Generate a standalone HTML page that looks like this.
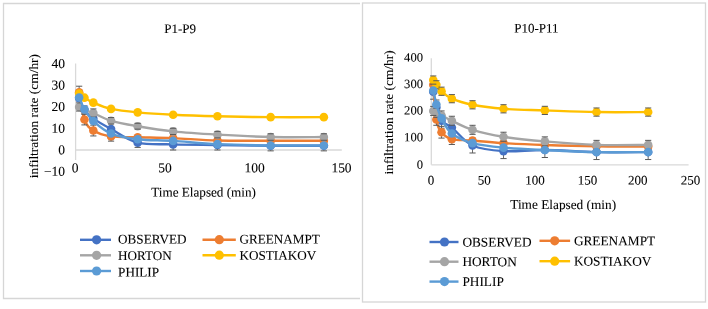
<!DOCTYPE html>
<html><head><meta charset="utf-8"><style>
html,body{margin:0;padding:0;background:#fff;width:708px;height:309px;overflow:hidden}
svg{display:block;will-change:transform} text{font-family:"Liberation Serif",serif;stroke:#000;stroke-width:0.08px;stroke-linejoin:round}
</style></head><body>
<svg width="708" height="309" viewBox="0 0 708 309">
<rect width="708" height="309" fill="#fff"/>

<path d="M360,3.5 H3.5 V298.5 H360" fill="none" stroke="#D6D6D6" stroke-width="1.3"/>
<rect x="362.5" y="3" width="343" height="299" fill="none" stroke="#D6D6D6" stroke-width="1.3"/>

<line x1="75.6" y1="63.5" x2="75.6" y2="160" stroke="#D9D9D9" stroke-width="1.3"/>
<line x1="75.6" y1="150.0" x2="341.8" y2="150.0" stroke="#D9D9D9" stroke-width="1.3"/>
<path d="M79.15,98.10 C80.03,100.08 82.10,106.57 84.47,109.99 C86.83,113.42 88.90,115.47 93.33,118.64 C97.77,121.82 103.68,125.02 111.07,129.02 C118.45,133.02 127.32,140.09 137.67,142.65 C148.01,145.21 159.83,143.98 173.13,144.38 C186.43,144.77 201.21,144.81 217.46,145.03 C233.72,145.24 252.93,145.57 270.66,145.68 C288.40,145.78 315.00,145.68 323.86,145.68" fill="none" stroke="#4472C4" stroke-width="2.4" stroke-linejoin="round"/>
<line x1="137.67" y1="137.89" x2="137.67" y2="147.41" stroke="#595959" stroke-width="0.9"/>
<line x1="173.13" y1="138.75" x2="173.13" y2="150.00" stroke="#595959" stroke-width="0.9"/>
<line x1="217.46" y1="140.05" x2="217.46" y2="150.00" stroke="#595959" stroke-width="0.9"/>
<line x1="270.66" y1="140.49" x2="270.66" y2="150.87" stroke="#595959" stroke-width="0.9"/>
<line x1="323.86" y1="140.49" x2="323.86" y2="150.87" stroke="#595959" stroke-width="0.9"/>
<circle cx="79.15" cy="98.10" r="4.3" fill="#4472C4"/>
<circle cx="84.47" cy="109.99" r="4.3" fill="#4472C4"/>
<circle cx="93.33" cy="118.64" r="4.3" fill="#4472C4"/>
<circle cx="111.07" cy="129.02" r="4.3" fill="#4472C4"/>
<circle cx="137.67" cy="142.65" r="4.3" fill="#4472C4"/>
<circle cx="173.13" cy="144.38" r="4.3" fill="#4472C4"/>
<circle cx="217.46" cy="145.03" r="4.3" fill="#4472C4"/>
<circle cx="270.66" cy="145.68" r="4.3" fill="#4472C4"/>
<circle cx="323.86" cy="145.68" r="4.3" fill="#4472C4"/>
<line x1="134.57" y1="137.89" x2="140.77" y2="137.89" stroke="#595959" stroke-width="1.0"/>
<line x1="134.57" y1="147.41" x2="140.77" y2="147.41" stroke="#595959" stroke-width="1.0"/>
<line x1="170.03" y1="138.75" x2="176.23" y2="138.75" stroke="#595959" stroke-width="1.0"/>
<line x1="170.03" y1="150.00" x2="176.23" y2="150.00" stroke="#595959" stroke-width="1.0"/>
<line x1="214.36" y1="140.05" x2="220.56" y2="140.05" stroke="#595959" stroke-width="1.0"/>
<line x1="214.36" y1="150.00" x2="220.56" y2="150.00" stroke="#595959" stroke-width="1.0"/>
<line x1="267.56" y1="140.49" x2="273.76" y2="140.49" stroke="#595959" stroke-width="1.0"/>
<line x1="267.56" y1="150.87" x2="273.76" y2="150.87" stroke="#595959" stroke-width="1.0"/>
<line x1="320.76" y1="140.49" x2="326.96" y2="140.49" stroke="#595959" stroke-width="1.0"/>
<line x1="320.76" y1="150.87" x2="326.96" y2="150.87" stroke="#595959" stroke-width="1.0"/>
<path d="M79.15,92.26 C80.03,96.80 82.10,113.13 84.47,119.51 C86.83,125.89 88.90,127.73 93.33,130.54 C97.77,133.35 103.68,135.26 111.07,136.38 C118.45,137.49 127.32,136.95 137.67,137.24 C148.01,137.53 159.83,137.57 173.13,138.11 C186.43,138.65 201.21,140.05 217.46,140.49 C233.72,140.92 252.93,140.67 270.66,140.70 C288.40,140.74 315.00,140.70 323.86,140.70" fill="none" stroke="#ED7D31" stroke-width="2.4" stroke-linejoin="round"/>
<line x1="79.15" y1="86.21" x2="79.15" y2="98.32" stroke="#595959" stroke-width="0.9"/>
<line x1="84.47" y1="114.10" x2="84.47" y2="124.91" stroke="#595959" stroke-width="0.9"/>
<line x1="93.33" y1="125.13" x2="93.33" y2="135.94" stroke="#595959" stroke-width="0.9"/>
<line x1="111.07" y1="131.62" x2="111.07" y2="141.13" stroke="#595959" stroke-width="0.9"/>
<circle cx="79.15" cy="92.26" r="4.3" fill="#ED7D31"/>
<circle cx="84.47" cy="119.51" r="4.3" fill="#ED7D31"/>
<circle cx="93.33" cy="130.54" r="4.3" fill="#ED7D31"/>
<circle cx="111.07" cy="136.38" r="4.3" fill="#ED7D31"/>
<circle cx="137.67" cy="137.24" r="4.3" fill="#ED7D31"/>
<circle cx="173.13" cy="138.11" r="4.3" fill="#ED7D31"/>
<circle cx="217.46" cy="140.49" r="4.3" fill="#ED7D31"/>
<circle cx="270.66" cy="140.70" r="4.3" fill="#ED7D31"/>
<circle cx="323.86" cy="140.70" r="4.3" fill="#ED7D31"/>
<line x1="76.05" y1="86.21" x2="82.25" y2="86.21" stroke="#595959" stroke-width="1.0"/>
<line x1="76.05" y1="98.32" x2="82.25" y2="98.32" stroke="#595959" stroke-width="1.0"/>
<line x1="81.37" y1="114.10" x2="87.57" y2="114.10" stroke="#595959" stroke-width="1.0"/>
<line x1="81.37" y1="124.91" x2="87.57" y2="124.91" stroke="#595959" stroke-width="1.0"/>
<line x1="90.23" y1="125.13" x2="96.43" y2="125.13" stroke="#595959" stroke-width="1.0"/>
<line x1="90.23" y1="135.94" x2="96.43" y2="135.94" stroke="#595959" stroke-width="1.0"/>
<line x1="107.97" y1="131.62" x2="114.17" y2="131.62" stroke="#595959" stroke-width="1.0"/>
<line x1="107.97" y1="141.13" x2="114.17" y2="141.13" stroke="#595959" stroke-width="1.0"/>
<path d="M79.15,106.97 C80.03,107.47 82.10,108.98 84.47,109.99 C86.83,111.00 88.90,111.22 93.33,113.02 C97.77,114.82 103.68,118.61 111.07,120.81 C118.45,123.00 127.32,124.45 137.67,126.21 C148.01,127.98 159.83,130.00 173.13,131.40 C186.43,132.81 201.21,133.71 217.46,134.65 C233.72,135.58 252.93,136.63 270.66,137.03 C288.40,137.42 315.00,137.03 323.86,137.03" fill="none" stroke="#A5A5A5" stroke-width="2.4" stroke-linejoin="round"/>
<line x1="79.15" y1="102.86" x2="79.15" y2="111.07" stroke="#595959" stroke-width="0.9"/>
<line x1="84.47" y1="105.88" x2="84.47" y2="114.10" stroke="#595959" stroke-width="0.9"/>
<line x1="93.33" y1="108.91" x2="93.33" y2="117.13" stroke="#595959" stroke-width="0.9"/>
<line x1="111.07" y1="117.56" x2="111.07" y2="124.05" stroke="#595959" stroke-width="0.9"/>
<line x1="137.67" y1="123.29" x2="137.67" y2="129.13" stroke="#595959" stroke-width="0.9"/>
<line x1="173.13" y1="128.27" x2="173.13" y2="134.54" stroke="#595959" stroke-width="0.9"/>
<line x1="217.46" y1="131.40" x2="217.46" y2="137.89" stroke="#595959" stroke-width="0.9"/>
<line x1="270.66" y1="133.78" x2="270.66" y2="140.27" stroke="#595959" stroke-width="0.9"/>
<line x1="323.86" y1="133.78" x2="323.86" y2="140.27" stroke="#595959" stroke-width="0.9"/>
<circle cx="79.15" cy="106.97" r="4.3" fill="#A5A5A5"/>
<circle cx="84.47" cy="109.99" r="4.3" fill="#A5A5A5"/>
<circle cx="93.33" cy="113.02" r="4.3" fill="#A5A5A5"/>
<circle cx="111.07" cy="120.81" r="4.3" fill="#A5A5A5"/>
<circle cx="137.67" cy="126.21" r="4.3" fill="#A5A5A5"/>
<circle cx="173.13" cy="131.40" r="4.3" fill="#A5A5A5"/>
<circle cx="217.46" cy="134.65" r="4.3" fill="#A5A5A5"/>
<circle cx="270.66" cy="137.03" r="4.3" fill="#A5A5A5"/>
<circle cx="323.86" cy="137.03" r="4.3" fill="#A5A5A5"/>
<line x1="76.05" y1="102.86" x2="82.25" y2="102.86" stroke="#595959" stroke-width="1.0"/>
<line x1="76.05" y1="111.07" x2="82.25" y2="111.07" stroke="#595959" stroke-width="1.0"/>
<line x1="81.37" y1="105.88" x2="87.57" y2="105.88" stroke="#595959" stroke-width="1.0"/>
<line x1="81.37" y1="114.10" x2="87.57" y2="114.10" stroke="#595959" stroke-width="1.0"/>
<line x1="90.23" y1="108.91" x2="96.43" y2="108.91" stroke="#595959" stroke-width="1.0"/>
<line x1="90.23" y1="117.13" x2="96.43" y2="117.13" stroke="#595959" stroke-width="1.0"/>
<line x1="107.97" y1="117.56" x2="114.17" y2="117.56" stroke="#595959" stroke-width="1.0"/>
<line x1="107.97" y1="124.05" x2="114.17" y2="124.05" stroke="#595959" stroke-width="1.0"/>
<line x1="134.57" y1="123.29" x2="140.77" y2="123.29" stroke="#595959" stroke-width="1.0"/>
<line x1="134.57" y1="129.13" x2="140.77" y2="129.13" stroke="#595959" stroke-width="1.0"/>
<line x1="170.03" y1="128.27" x2="176.23" y2="128.27" stroke="#595959" stroke-width="1.0"/>
<line x1="170.03" y1="134.54" x2="176.23" y2="134.54" stroke="#595959" stroke-width="1.0"/>
<line x1="214.36" y1="131.40" x2="220.56" y2="131.40" stroke="#595959" stroke-width="1.0"/>
<line x1="214.36" y1="137.89" x2="220.56" y2="137.89" stroke="#595959" stroke-width="1.0"/>
<line x1="267.56" y1="133.78" x2="273.76" y2="133.78" stroke="#595959" stroke-width="1.0"/>
<line x1="267.56" y1="140.27" x2="273.76" y2="140.27" stroke="#595959" stroke-width="1.0"/>
<line x1="320.76" y1="133.78" x2="326.96" y2="133.78" stroke="#595959" stroke-width="1.0"/>
<line x1="320.76" y1="140.27" x2="326.96" y2="140.27" stroke="#595959" stroke-width="1.0"/>
<path d="M79.15,93.56 C80.03,94.24 82.10,96.15 84.47,97.67 C86.83,99.18 88.90,100.77 93.33,102.64 C97.77,104.52 103.68,107.29 111.07,108.91 C118.45,110.53 127.32,111.40 137.67,112.37 C148.01,113.35 159.83,114.10 173.13,114.75 C186.43,115.40 201.21,115.87 217.46,116.27 C233.72,116.66 252.93,116.99 270.66,117.13 C288.40,117.27 315.00,117.13 323.86,117.13" fill="none" stroke="#FFC000" stroke-width="2.4" stroke-linejoin="round"/>
<circle cx="79.15" cy="93.56" r="4.3" fill="#FFC000"/>
<circle cx="84.47" cy="97.67" r="4.3" fill="#FFC000"/>
<circle cx="93.33" cy="102.64" r="4.3" fill="#FFC000"/>
<circle cx="111.07" cy="108.91" r="4.3" fill="#FFC000"/>
<circle cx="137.67" cy="112.37" r="4.3" fill="#FFC000"/>
<circle cx="173.13" cy="114.75" r="4.3" fill="#FFC000"/>
<circle cx="217.46" cy="116.27" r="4.3" fill="#FFC000"/>
<circle cx="270.66" cy="117.13" r="4.3" fill="#FFC000"/>
<circle cx="323.86" cy="117.13" r="4.3" fill="#FFC000"/>
<path d="M79.15,97.45 C80.03,99.43 82.10,105.42 84.47,109.34 C86.83,113.27 88.90,116.99 93.33,121.02 C97.77,125.06 103.68,130.54 111.07,133.56 C118.45,136.59 127.32,137.96 137.67,139.19 C148.01,140.41 159.83,140.09 173.13,140.92 C186.43,141.75 201.21,143.40 217.46,144.16 C233.72,144.92 252.93,145.24 270.66,145.46 C288.40,145.68 315.00,145.46 323.86,145.46" fill="none" stroke="#5B9BD5" stroke-width="2.4" stroke-linejoin="round"/>
<circle cx="79.15" cy="97.45" r="4.3" fill="#5B9BD5"/>
<circle cx="84.47" cy="109.34" r="4.3" fill="#5B9BD5"/>
<circle cx="93.33" cy="121.02" r="4.3" fill="#5B9BD5"/>
<circle cx="111.07" cy="133.56" r="4.3" fill="#5B9BD5"/>
<circle cx="137.67" cy="139.19" r="4.3" fill="#5B9BD5"/>
<circle cx="173.13" cy="140.92" r="4.3" fill="#5B9BD5"/>
<circle cx="217.46" cy="144.16" r="4.3" fill="#5B9BD5"/>
<circle cx="270.66" cy="145.46" r="4.3" fill="#5B9BD5"/>
<circle cx="323.86" cy="145.46" r="4.3" fill="#5B9BD5"/>
<text x="0" y="0" transform="translate(65,67.9) rotate(0.05)" text-anchor="end" font-size="13.5" fill="#000">40</text>
<text x="0" y="0" transform="translate(65,89.5) rotate(0.05)" text-anchor="end" font-size="13.5" fill="#000">30</text>
<text x="0" y="0" transform="translate(65,111.1) rotate(0.05)" text-anchor="end" font-size="13.5" fill="#000">20</text>
<text x="0" y="0" transform="translate(65,132.8) rotate(0.05)" text-anchor="end" font-size="13.5" fill="#000">10</text>
<text x="0" y="0" transform="translate(65,154.3) rotate(0.05)" text-anchor="end" font-size="13.5" fill="#000">0</text>
<text x="0" y="0" transform="translate(65,175.7) rotate(0.05)" text-anchor="end" font-size="13.5" fill="#000">−10</text>
<text x="0" y="0" transform="translate(75.1,172.2) rotate(0.05)" text-anchor="middle" font-size="13.5" fill="#000">0</text>
<text x="0" y="0" transform="translate(165,172.2) rotate(0.05)" text-anchor="middle" font-size="13.5" fill="#000">50</text>
<text x="0" y="0" transform="translate(254.7,172.2) rotate(0.05)" text-anchor="middle" font-size="13.5" fill="#000">100</text>
<text x="0" y="0" transform="translate(341.5,172.2) rotate(0.05)" text-anchor="middle" font-size="13.5" fill="#000">150</text>
<text x="0" y="0" transform="translate(180.2,33.1) rotate(0.05)" text-anchor="middle" font-size="13" fill="#000">P1-P9</text>
<text x="0" y="0" transform="translate(203.6,196.5) rotate(0.05)" text-anchor="middle" font-size="13.15" fill="#000">Time Elapsed (min)</text>
<text x="0" y="0" transform="translate(37.8,116.1) rotate(-90)" text-anchor="middle" font-size="13.4"  fill="#000">infiltration rate (cm/hr)</text>
<line x1="80" y1="239.8" x2="111" y2="239.8" stroke="#4472C4" stroke-width="2.4"/>
<circle cx="96.6" cy="239.8" r="4.6" fill="#4472C4"/>
<text x="0" y="0" transform="translate(118.1,243.5) rotate(0.05)" text-anchor="start" font-size="13.15" fill="#000">OBSERVED</text>
<line x1="80" y1="255.3" x2="111" y2="255.3" stroke="#A5A5A5" stroke-width="2.4"/>
<circle cx="96.6" cy="255.3" r="4.6" fill="#A5A5A5"/>
<text x="0" y="0" transform="translate(118.1,259.9) rotate(0.05)" text-anchor="start" font-size="13.15" fill="#000">HORTON</text>
<line x1="80" y1="271.0" x2="111" y2="271.0" stroke="#5B9BD5" stroke-width="2.4"/>
<circle cx="96.6" cy="271.0" r="4.6" fill="#5B9BD5"/>
<text x="0" y="0" transform="translate(118.1,276.5) rotate(0.05)" text-anchor="start" font-size="13.15" fill="#000">PHILIP</text>
<line x1="202.5" y1="239.7" x2="235.8" y2="239.7" stroke="#ED7D31" stroke-width="2.4"/>
<circle cx="219.3" cy="239.7" r="4.6" fill="#ED7D31"/>
<text x="0" y="0" transform="translate(239.5,243.4) rotate(0.05)" text-anchor="start" font-size="13.15" fill="#000">GREENAMPT</text>
<line x1="202.5" y1="255.2" x2="235.8" y2="255.2" stroke="#FFC000" stroke-width="2.4"/>
<circle cx="219.3" cy="255.2" r="4.6" fill="#FFC000"/>
<text x="0" y="0" transform="translate(239.5,259.7) rotate(0.05)" text-anchor="start" font-size="13.15" fill="#000">KOSTIAKOV</text>
<line x1="431.3" y1="58.2" x2="431.3" y2="164.7" stroke="#D9D9D9" stroke-width="1.3"/>
<line x1="431.3" y1="164.8" x2="688.6" y2="164.8" stroke="#D9D9D9" stroke-width="1.3"/>
<path d="M433.27,91.76 C433.78,94.38 434.99,102.63 436.37,107.47 C437.74,112.30 438.95,117.43 441.53,120.78 C444.12,124.13 446.70,123.44 451.86,127.57 C457.03,131.69 463.92,141.61 472.53,145.53 C481.14,149.46 491.47,150.37 503.52,151.12 C515.58,151.88 529.35,149.90 544.85,150.06 C560.35,150.22 579.29,151.74 596.51,152.08 C613.73,152.42 639.56,152.08 648.17,152.08" fill="none" stroke="#4472C4" stroke-width="2.4" stroke-linejoin="round"/>
<line x1="433.27" y1="84.31" x2="433.27" y2="99.21" stroke="#595959" stroke-width="0.9"/>
<line x1="436.37" y1="100.01" x2="436.37" y2="114.92" stroke="#595959" stroke-width="0.9"/>
<line x1="441.53" y1="113.32" x2="441.53" y2="128.23" stroke="#595959" stroke-width="0.9"/>
<line x1="451.86" y1="120.11" x2="451.86" y2="135.02" stroke="#595959" stroke-width="0.9"/>
<line x1="472.53" y1="138.08" x2="472.53" y2="152.99" stroke="#595959" stroke-width="0.9"/>
<line x1="503.52" y1="143.67" x2="503.52" y2="158.58" stroke="#595959" stroke-width="0.9"/>
<line x1="544.85" y1="142.61" x2="544.85" y2="157.51" stroke="#595959" stroke-width="0.9"/>
<line x1="596.51" y1="144.63" x2="596.51" y2="159.54" stroke="#595959" stroke-width="0.9"/>
<line x1="648.17" y1="144.63" x2="648.17" y2="159.54" stroke="#595959" stroke-width="0.9"/>
<circle cx="433.27" cy="91.76" r="4.3" fill="#4472C4"/>
<circle cx="436.37" cy="107.47" r="4.3" fill="#4472C4"/>
<circle cx="441.53" cy="120.78" r="4.3" fill="#4472C4"/>
<circle cx="451.86" cy="127.57" r="4.3" fill="#4472C4"/>
<circle cx="472.53" cy="145.53" r="4.3" fill="#4472C4"/>
<circle cx="503.52" cy="151.12" r="4.3" fill="#4472C4"/>
<circle cx="544.85" cy="150.06" r="4.3" fill="#4472C4"/>
<circle cx="596.51" cy="152.08" r="4.3" fill="#4472C4"/>
<circle cx="648.17" cy="152.08" r="4.3" fill="#4472C4"/>
<line x1="430.17" y1="84.31" x2="436.37" y2="84.31" stroke="#595959" stroke-width="1.0"/>
<line x1="430.17" y1="99.21" x2="436.37" y2="99.21" stroke="#595959" stroke-width="1.0"/>
<line x1="433.27" y1="100.01" x2="439.47" y2="100.01" stroke="#595959" stroke-width="1.0"/>
<line x1="433.27" y1="114.92" x2="439.47" y2="114.92" stroke="#595959" stroke-width="1.0"/>
<line x1="438.43" y1="113.32" x2="444.63" y2="113.32" stroke="#595959" stroke-width="1.0"/>
<line x1="438.43" y1="128.23" x2="444.63" y2="128.23" stroke="#595959" stroke-width="1.0"/>
<line x1="448.76" y1="120.11" x2="454.96" y2="120.11" stroke="#595959" stroke-width="1.0"/>
<line x1="448.76" y1="135.02" x2="454.96" y2="135.02" stroke="#595959" stroke-width="1.0"/>
<line x1="469.43" y1="138.08" x2="475.63" y2="138.08" stroke="#595959" stroke-width="1.0"/>
<line x1="469.43" y1="152.99" x2="475.63" y2="152.99" stroke="#595959" stroke-width="1.0"/>
<line x1="500.42" y1="143.67" x2="506.62" y2="143.67" stroke="#595959" stroke-width="1.0"/>
<line x1="500.42" y1="158.58" x2="506.62" y2="158.58" stroke="#595959" stroke-width="1.0"/>
<line x1="541.75" y1="142.61" x2="547.95" y2="142.61" stroke="#595959" stroke-width="1.0"/>
<line x1="541.75" y1="157.51" x2="547.95" y2="157.51" stroke="#595959" stroke-width="1.0"/>
<line x1="593.41" y1="144.63" x2="599.61" y2="144.63" stroke="#595959" stroke-width="1.0"/>
<line x1="593.41" y1="159.54" x2="599.61" y2="159.54" stroke="#595959" stroke-width="1.0"/>
<line x1="645.07" y1="144.63" x2="651.27" y2="144.63" stroke="#595959" stroke-width="1.0"/>
<line x1="645.07" y1="159.54" x2="651.27" y2="159.54" stroke="#595959" stroke-width="1.0"/>
<path d="M433.27,84.84 C433.78,90.61 434.99,111.55 436.37,119.45 C437.74,127.34 438.95,128.94 441.53,132.22 C444.12,135.51 446.70,137.77 451.86,139.14 C457.03,140.52 463.92,139.81 472.53,140.48 C481.14,141.14 491.47,142.38 503.52,143.14 C515.58,143.89 529.35,144.47 544.85,145.00 C560.35,145.53 579.29,146.07 596.51,146.33 C613.73,146.60 639.56,146.55 648.17,146.60" fill="none" stroke="#ED7D31" stroke-width="2.4" stroke-linejoin="round"/>
<line x1="436.37" y1="113.59" x2="436.37" y2="125.30" stroke="#595959" stroke-width="0.9"/>
<line x1="441.53" y1="126.37" x2="441.53" y2="138.08" stroke="#595959" stroke-width="0.9"/>
<line x1="451.86" y1="133.82" x2="451.86" y2="144.47" stroke="#595959" stroke-width="0.9"/>
<circle cx="433.27" cy="84.84" r="4.3" fill="#ED7D31"/>
<circle cx="436.37" cy="119.45" r="4.3" fill="#ED7D31"/>
<circle cx="441.53" cy="132.22" r="4.3" fill="#ED7D31"/>
<circle cx="451.86" cy="139.14" r="4.3" fill="#ED7D31"/>
<circle cx="472.53" cy="140.48" r="4.3" fill="#ED7D31"/>
<circle cx="503.52" cy="143.14" r="4.3" fill="#ED7D31"/>
<circle cx="544.85" cy="145.00" r="4.3" fill="#ED7D31"/>
<circle cx="596.51" cy="146.33" r="4.3" fill="#ED7D31"/>
<circle cx="648.17" cy="146.60" r="4.3" fill="#ED7D31"/>
<line x1="433.27" y1="113.59" x2="439.47" y2="113.59" stroke="#595959" stroke-width="1.0"/>
<line x1="433.27" y1="125.30" x2="439.47" y2="125.30" stroke="#595959" stroke-width="1.0"/>
<line x1="438.43" y1="126.37" x2="444.63" y2="126.37" stroke="#595959" stroke-width="1.0"/>
<line x1="438.43" y1="138.08" x2="444.63" y2="138.08" stroke="#595959" stroke-width="1.0"/>
<line x1="448.76" y1="133.82" x2="454.96" y2="133.82" stroke="#595959" stroke-width="1.0"/>
<line x1="448.76" y1="144.47" x2="454.96" y2="144.47" stroke="#595959" stroke-width="1.0"/>
<path d="M433.27,110.93 C433.78,111.24 434.99,112.04 436.37,112.79 C437.74,113.55 438.95,114.12 441.53,115.45 C444.12,116.78 446.70,118.38 451.86,120.78 C457.03,123.17 463.92,127.17 472.53,129.83 C481.14,132.49 491.47,134.82 503.52,136.75 C515.58,138.67 529.35,140.02 544.85,141.38 C560.35,142.74 579.29,144.31 596.51,144.89 C613.73,145.48 639.56,144.89 648.17,144.89" fill="none" stroke="#A5A5A5" stroke-width="2.4" stroke-linejoin="round"/>
<line x1="433.27" y1="106.40" x2="433.27" y2="115.45" stroke="#595959" stroke-width="0.9"/>
<line x1="436.37" y1="108.27" x2="436.37" y2="117.32" stroke="#595959" stroke-width="0.9"/>
<line x1="441.53" y1="110.93" x2="441.53" y2="119.98" stroke="#595959" stroke-width="0.9"/>
<line x1="451.86" y1="116.25" x2="451.86" y2="125.30" stroke="#595959" stroke-width="0.9"/>
<line x1="472.53" y1="125.30" x2="472.53" y2="134.35" stroke="#595959" stroke-width="0.9"/>
<line x1="503.52" y1="132.22" x2="503.52" y2="141.27" stroke="#595959" stroke-width="0.9"/>
<line x1="544.85" y1="136.86" x2="544.85" y2="145.91" stroke="#595959" stroke-width="0.9"/>
<line x1="596.51" y1="140.37" x2="596.51" y2="149.42" stroke="#595959" stroke-width="0.9"/>
<line x1="648.17" y1="140.37" x2="648.17" y2="149.42" stroke="#595959" stroke-width="0.9"/>
<circle cx="433.27" cy="110.93" r="4.3" fill="#A5A5A5"/>
<circle cx="436.37" cy="112.79" r="4.3" fill="#A5A5A5"/>
<circle cx="441.53" cy="115.45" r="4.3" fill="#A5A5A5"/>
<circle cx="451.86" cy="120.78" r="4.3" fill="#A5A5A5"/>
<circle cx="472.53" cy="129.83" r="4.3" fill="#A5A5A5"/>
<circle cx="503.52" cy="136.75" r="4.3" fill="#A5A5A5"/>
<circle cx="544.85" cy="141.38" r="4.3" fill="#A5A5A5"/>
<circle cx="596.51" cy="144.89" r="4.3" fill="#A5A5A5"/>
<circle cx="648.17" cy="144.89" r="4.3" fill="#A5A5A5"/>
<line x1="430.17" y1="106.40" x2="436.37" y2="106.40" stroke="#595959" stroke-width="1.0"/>
<line x1="430.17" y1="115.45" x2="436.37" y2="115.45" stroke="#595959" stroke-width="1.0"/>
<line x1="433.27" y1="108.27" x2="439.47" y2="108.27" stroke="#595959" stroke-width="1.0"/>
<line x1="433.27" y1="117.32" x2="439.47" y2="117.32" stroke="#595959" stroke-width="1.0"/>
<line x1="438.43" y1="110.93" x2="444.63" y2="110.93" stroke="#595959" stroke-width="1.0"/>
<line x1="438.43" y1="119.98" x2="444.63" y2="119.98" stroke="#595959" stroke-width="1.0"/>
<line x1="448.76" y1="116.25" x2="454.96" y2="116.25" stroke="#595959" stroke-width="1.0"/>
<line x1="448.76" y1="125.30" x2="454.96" y2="125.30" stroke="#595959" stroke-width="1.0"/>
<line x1="469.43" y1="125.30" x2="475.63" y2="125.30" stroke="#595959" stroke-width="1.0"/>
<line x1="469.43" y1="134.35" x2="475.63" y2="134.35" stroke="#595959" stroke-width="1.0"/>
<line x1="500.42" y1="132.22" x2="506.62" y2="132.22" stroke="#595959" stroke-width="1.0"/>
<line x1="500.42" y1="141.27" x2="506.62" y2="141.27" stroke="#595959" stroke-width="1.0"/>
<line x1="541.75" y1="136.86" x2="547.95" y2="136.86" stroke="#595959" stroke-width="1.0"/>
<line x1="541.75" y1="145.91" x2="547.95" y2="145.91" stroke="#595959" stroke-width="1.0"/>
<line x1="593.41" y1="140.37" x2="599.61" y2="140.37" stroke="#595959" stroke-width="1.0"/>
<line x1="593.41" y1="149.42" x2="599.61" y2="149.42" stroke="#595959" stroke-width="1.0"/>
<line x1="645.07" y1="140.37" x2="651.27" y2="140.37" stroke="#595959" stroke-width="1.0"/>
<line x1="645.07" y1="149.42" x2="651.27" y2="149.42" stroke="#595959" stroke-width="1.0"/>
<path d="M433.27,80.05 C433.78,80.85 434.99,82.98 436.37,84.84 C437.74,86.70 438.95,88.92 441.53,91.23 C444.12,93.54 446.70,96.42 451.86,98.68 C457.03,100.95 463.92,103.12 472.53,104.80 C481.14,106.49 491.47,107.87 503.52,108.80 C515.58,109.73 529.35,109.85 544.85,110.40 C560.35,110.94 579.29,111.79 596.51,112.07 C613.73,112.35 639.56,112.07 648.17,112.07" fill="none" stroke="#FFC000" stroke-width="2.4" stroke-linejoin="round"/>
<line x1="433.27" y1="75.95" x2="433.27" y2="84.15" stroke="#595959" stroke-width="0.9"/>
<line x1="436.37" y1="80.74" x2="436.37" y2="88.94" stroke="#595959" stroke-width="0.9"/>
<line x1="441.53" y1="87.13" x2="441.53" y2="95.33" stroke="#595959" stroke-width="0.9"/>
<line x1="451.86" y1="94.58" x2="451.86" y2="102.78" stroke="#595959" stroke-width="0.9"/>
<line x1="472.53" y1="100.71" x2="472.53" y2="108.90" stroke="#595959" stroke-width="0.9"/>
<line x1="503.52" y1="104.70" x2="503.52" y2="112.90" stroke="#595959" stroke-width="0.9"/>
<line x1="544.85" y1="106.30" x2="544.85" y2="114.49" stroke="#595959" stroke-width="0.9"/>
<line x1="596.51" y1="107.97" x2="596.51" y2="116.17" stroke="#595959" stroke-width="0.9"/>
<line x1="648.17" y1="107.97" x2="648.17" y2="116.17" stroke="#595959" stroke-width="0.9"/>
<circle cx="433.27" cy="80.05" r="4.3" fill="#FFC000"/>
<circle cx="436.37" cy="84.84" r="4.3" fill="#FFC000"/>
<circle cx="441.53" cy="91.23" r="4.3" fill="#FFC000"/>
<circle cx="451.86" cy="98.68" r="4.3" fill="#FFC000"/>
<circle cx="472.53" cy="104.80" r="4.3" fill="#FFC000"/>
<circle cx="503.52" cy="108.80" r="4.3" fill="#FFC000"/>
<circle cx="544.85" cy="110.40" r="4.3" fill="#FFC000"/>
<circle cx="596.51" cy="112.07" r="4.3" fill="#FFC000"/>
<circle cx="648.17" cy="112.07" r="4.3" fill="#FFC000"/>
<line x1="430.17" y1="75.95" x2="436.37" y2="75.95" stroke="#595959" stroke-width="1.0"/>
<line x1="430.17" y1="84.15" x2="436.37" y2="84.15" stroke="#595959" stroke-width="1.0"/>
<line x1="433.27" y1="80.74" x2="439.47" y2="80.74" stroke="#595959" stroke-width="1.0"/>
<line x1="433.27" y1="88.94" x2="439.47" y2="88.94" stroke="#595959" stroke-width="1.0"/>
<line x1="438.43" y1="87.13" x2="444.63" y2="87.13" stroke="#595959" stroke-width="1.0"/>
<line x1="438.43" y1="95.33" x2="444.63" y2="95.33" stroke="#595959" stroke-width="1.0"/>
<line x1="448.76" y1="94.58" x2="454.96" y2="94.58" stroke="#595959" stroke-width="1.0"/>
<line x1="448.76" y1="102.78" x2="454.96" y2="102.78" stroke="#595959" stroke-width="1.0"/>
<line x1="469.43" y1="100.71" x2="475.63" y2="100.71" stroke="#595959" stroke-width="1.0"/>
<line x1="469.43" y1="108.90" x2="475.63" y2="108.90" stroke="#595959" stroke-width="1.0"/>
<line x1="500.42" y1="104.70" x2="506.62" y2="104.70" stroke="#595959" stroke-width="1.0"/>
<line x1="500.42" y1="112.90" x2="506.62" y2="112.90" stroke="#595959" stroke-width="1.0"/>
<line x1="541.75" y1="106.30" x2="547.95" y2="106.30" stroke="#595959" stroke-width="1.0"/>
<line x1="541.75" y1="114.49" x2="547.95" y2="114.49" stroke="#595959" stroke-width="1.0"/>
<line x1="593.41" y1="107.97" x2="599.61" y2="107.97" stroke="#595959" stroke-width="1.0"/>
<line x1="593.41" y1="116.17" x2="599.61" y2="116.17" stroke="#595959" stroke-width="1.0"/>
<line x1="645.07" y1="107.97" x2="651.27" y2="107.97" stroke="#595959" stroke-width="1.0"/>
<line x1="645.07" y1="116.17" x2="651.27" y2="116.17" stroke="#595959" stroke-width="1.0"/>
<path d="M433.27,90.43 C433.78,92.78 434.99,99.88 436.37,104.54 C437.74,109.20 438.95,113.55 441.53,118.38 C444.12,123.22 446.70,129.43 451.86,133.55 C457.03,137.68 463.92,140.79 472.53,143.14 C481.14,145.49 491.47,146.51 503.52,147.66 C515.58,148.82 529.35,149.32 544.85,150.06 C560.35,150.80 579.29,151.74 596.51,152.08 C613.73,152.42 639.56,152.08 648.17,152.08" fill="none" stroke="#5B9BD5" stroke-width="2.4" stroke-linejoin="round"/>
<circle cx="433.27" cy="90.43" r="4.3" fill="#5B9BD5"/>
<circle cx="436.37" cy="104.54" r="4.3" fill="#5B9BD5"/>
<circle cx="441.53" cy="118.38" r="4.3" fill="#5B9BD5"/>
<circle cx="451.86" cy="133.55" r="4.3" fill="#5B9BD5"/>
<circle cx="472.53" cy="143.14" r="4.3" fill="#5B9BD5"/>
<circle cx="503.52" cy="147.66" r="4.3" fill="#5B9BD5"/>
<circle cx="544.85" cy="150.06" r="4.3" fill="#5B9BD5"/>
<circle cx="596.51" cy="152.08" r="4.3" fill="#5B9BD5"/>
<circle cx="648.17" cy="152.08" r="4.3" fill="#5B9BD5"/>
<text x="0" y="0" transform="translate(423,61.4) rotate(0.05)" text-anchor="end" font-size="12.6" fill="#000">400</text>
<text x="0" y="0" transform="translate(423,88) rotate(0.05)" text-anchor="end" font-size="12.6" fill="#000">300</text>
<text x="0" y="0" transform="translate(423,114.6) rotate(0.05)" text-anchor="end" font-size="12.6" fill="#000">200</text>
<text x="0" y="0" transform="translate(423,141.3) rotate(0.05)" text-anchor="end" font-size="12.6" fill="#000">100</text>
<text x="0" y="0" transform="translate(423,168.8) rotate(0.05)" text-anchor="end" font-size="12.6" fill="#000">0</text>
<text x="0" y="0" transform="translate(431,184.5) rotate(0.05)" text-anchor="middle" font-size="13" fill="#000">0</text>
<text x="0" y="0" transform="translate(484.3,184.5) rotate(0.05)" text-anchor="middle" font-size="13" fill="#000">50</text>
<text x="0" y="0" transform="translate(535.1,184.5) rotate(0.05)" text-anchor="middle" font-size="13" fill="#000">100</text>
<text x="0" y="0" transform="translate(587.4,184.5) rotate(0.05)" text-anchor="middle" font-size="13" fill="#000">150</text>
<text x="0" y="0" transform="translate(637.7,184.5) rotate(0.05)" text-anchor="middle" font-size="13" fill="#000">200</text>
<text x="0" y="0" transform="translate(690.6,184.5) rotate(0.05)" text-anchor="middle" font-size="13" fill="#000">250</text>
<text x="0" y="0" transform="translate(536.4,32.6) rotate(0.05)" text-anchor="middle" font-size="13" fill="#000">P10-P11</text>
<text x="0" y="0" transform="translate(563.2,208.9) rotate(0.05)" text-anchor="middle" font-size="13.3" fill="#000">Time Elapsed (min)</text>
<text x="0" y="0" transform="translate(392.6,112.4) rotate(-90)" text-anchor="middle" font-size="13.4"  fill="#000">infiltration rate (cm/hr)</text>
<line x1="429.5" y1="242" x2="458.5" y2="242" stroke="#4472C4" stroke-width="2.4"/>
<circle cx="444.5" cy="242" r="4.6" fill="#4472C4"/>
<text x="0" y="0" transform="translate(462.4,246.4) rotate(0.05)" text-anchor="start" font-size="13.3" fill="#000">OBSERVED</text>
<line x1="429.5" y1="261.7" x2="458.5" y2="261.7" stroke="#A5A5A5" stroke-width="2.4"/>
<circle cx="444.5" cy="261.7" r="4.6" fill="#A5A5A5"/>
<text x="0" y="0" transform="translate(462.4,266.09999999999997) rotate(0.05)" text-anchor="start" font-size="13.3" fill="#000">HORTON</text>
<line x1="429.5" y1="281.6" x2="458.5" y2="281.6" stroke="#5B9BD5" stroke-width="2.4"/>
<circle cx="444.5" cy="281.6" r="4.6" fill="#5B9BD5"/>
<text x="0" y="0" transform="translate(462.4,286.0) rotate(0.05)" text-anchor="start" font-size="13.3" fill="#000">PHILIP</text>
<line x1="539.5" y1="240.8" x2="570.1" y2="240.8" stroke="#ED7D31" stroke-width="2.4"/>
<circle cx="554.7" cy="240.8" r="4.6" fill="#ED7D31"/>
<text x="0" y="0" transform="translate(573.9,245.20000000000002) rotate(0.05)" text-anchor="start" font-size="13.3" fill="#000">GREENAMPT</text>
<line x1="539.5" y1="261.2" x2="570.1" y2="261.2" stroke="#FFC000" stroke-width="2.4"/>
<circle cx="554.7" cy="261.2" r="4.6" fill="#FFC000"/>
<text x="0" y="0" transform="translate(573.9,265.59999999999997) rotate(0.05)" text-anchor="start" font-size="13.3" fill="#000">KOSTIAKOV</text>
</svg>
</body></html>
